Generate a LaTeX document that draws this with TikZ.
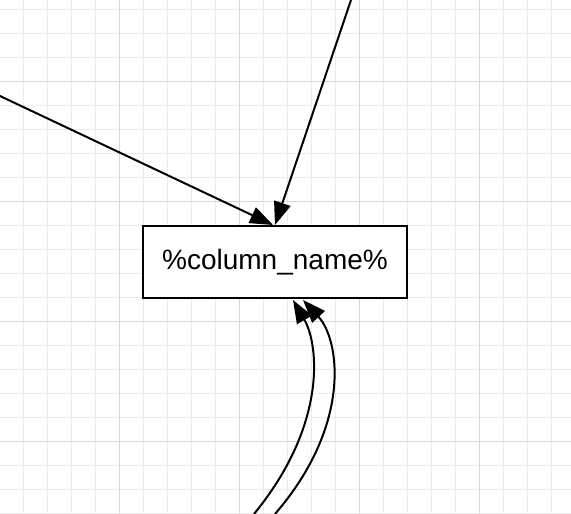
\documentclass[tikz,border=0pt]{standalone}
\usepackage{fontspec}
\setmainfont{Liberation Sans}
\usetikzlibrary{arrows.meta,shapes,positioning}
\tikzset{
gridminor/.style = {draw=black!8, line width=1pt},% grille fine
gridmajor/.style = {draw=black!16, line width=1pt},% grille principale
colbox/.style = {rectangle, draw=black, fill=white, line width=2pt, minimum width=264pt, minimum height=72pt, inner sep=0pt, font=\fontsize{28}{32}\selectfont},% noeud colonne
link/.style = {draw=black, line width=2pt, -{Triangle[length=23pt,width=17pt]}}% fleche
}
\begin{document}
\begin{tikzpicture}[x=1pt,y=-1pt]
	\useasboundingbox (0,0) rectangle (571,514);
	\fill[white] (0,0) rectangle (571,514);
	% grille
	\foreach \k in {0,...,23} {
	  \draw[gridminor] ({-1+24*\k},0) -- ({-1+24*\k},514);
	  \draw[gridminor] (0,{9+24*\k}) -- (571,{9+24*\k});
	}
	\foreach \k in {0,...,4} {
	  \draw[gridmajor] ({-1+120*\k},0) -- ({-1+120*\k},514);
	  \draw[gridmajor] (0,{81+120*\k}) -- (571,{81+120*\k});
	}
	\node [colbox] (col) at (275,262) {\%column\_name\%};
	\coordinate (west) at (0,96);
	\coordinate (top) at (351,0);
	\coordinate (low1) at (254,514);
	\coordinate (low2) at (275,514);
	\coordinate (in1) at ([xshift=18pt,yshift=-1pt]col.south);
	\coordinate (in2) at ([xshift=28pt,yshift=-1pt]col.south);
	\draw [link] (west) -- ([xshift=-2pt]col.north);
	\draw [link] (top) -- (col.north);
	\draw [link] (low1) .. controls (327,425) and (319,345) .. (in1);
	\draw [link] (low2) .. controls (352,425) and (340,340) .. (in2);
\end{tikzpicture}
\end{document}
